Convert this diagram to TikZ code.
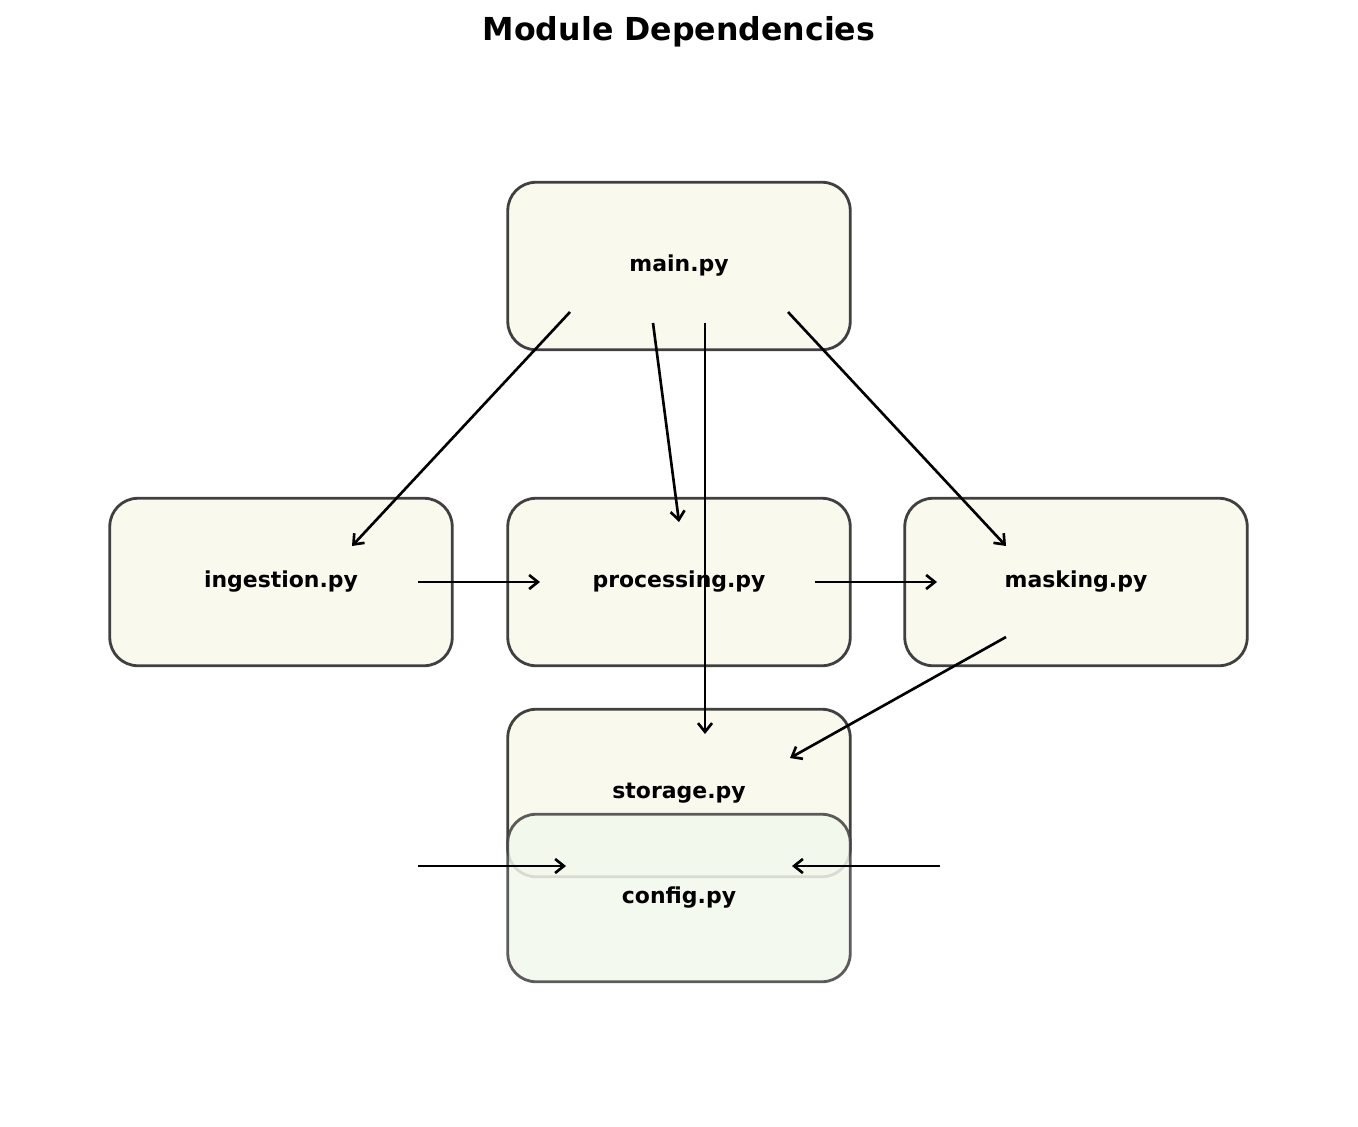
\documentclass[tikz,border=0pt]{standalone}
\usepackage{fontspec}
\setmainfont{DejaVu Sans}
\usetikzlibrary{arrows.meta}
\definecolor{boxfill}{HTML}{F9F9EE}
\definecolor{cfgfill}{HTML}{F2F8EC}
\definecolor{boxline}{HTML}{404040}
\begin{document}
\begin{tikzpicture}[x=0.02cm,y=-0.02cm,->,>={Straight Barb[length=5pt,width=8pt]},
                    line width=1.5pt,
                    mod/.style={rectangle,rounded corners=16pt,draw=boxline,fill=boxfill,
                      line width=1.6pt,minimum width=6.85cm,minimum height=3.35cm,
                      font=\fontsize{12.5}{14}\selectfont\bfseries}]
  \useasboundingbox (0,0) rectangle (1358,1126);

  \node at (679,32) {\fontsize{18}{21}\selectfont\bfseries Module Dependencies};

  \node[mod] (main) at (679,266) {main.py};
  \node[mod] (ing) at (281,582) {ingestion.py};
  \node[mod] (proc) at (679,582) {processing.py};
  \node[mod] (mask) at (1076,582) {masking.py};
  \node[mod] (stor) at (679,793) {storage.py};
  \node[mod,fill=cfgfill,fill opacity=0.85,text opacity=1,draw opacity=0.85] (cfg) at (679,898) {config.py};

  % arrow ends
  \coordinate (m1) at (570,312); \coordinate (i1) at (352,546);
  \coordinate (m2) at (653,323); \coordinate (p1) at (679,522);
  \coordinate (m3) at (705,323); \coordinate (s1) at (705,734);
  \coordinate (m4) at (788,312); \coordinate (k1) at (1006,546);
  \coordinate (i2) at (418,582); \coordinate (p2) at (540,582);
  \coordinate (p3) at (815,582); \coordinate (k2) at (937,582);
  \coordinate (k3) at (1006,637); \coordinate (s2) at (790,758);
  \coordinate (a1) at (418,866); \coordinate (c1) at (566,866);
  \coordinate (a2) at (940,866); \coordinate (c2) at (792,866);

  \draw (m1) -- (i1);
  \draw (m2) -- (p1);
  \draw (m3) -- (s1);
  \draw (m4) -- (k1);
  \draw (i2) -- (p2);
  \draw (p3) -- (k2);
  \draw (k3) -- (s2);
  \draw (a1) -- (c1);
  \draw (a2) -- (c2);
\end{tikzpicture}
\end{document}
